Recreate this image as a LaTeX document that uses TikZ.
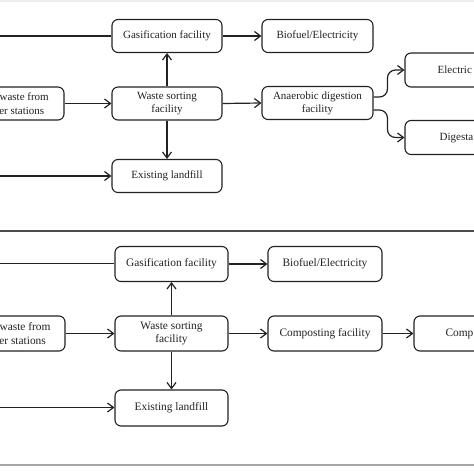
\documentclass[tikz,border=0pt]{standalone}
\usepackage{fontspec}
\setmainfont{Liberation Serif}
\usetikzlibrary{arrows.meta}
\definecolor{ink}{HTML}{222222}
\tikzset{
  box/.style={draw=ink, line width=1.1pt, rounded corners=6pt, text=ink, align=center, inner sep=1pt},
  boxA/.style={box, minimum width=110pt, minimum height=33pt, font=\fontsize{11}{13}\selectfont},
  boxB/.style={box, minimum width=113pt, minimum height=35pt, font=\fontsize{11.4}{13.5}\selectfont},
  frag/.style={inner sep=0pt, text=ink},
  conn/.style={draw=ink, line width=1.2pt},
  arr/.style={conn, -{Straight Barb[length=6pt,width=9pt,line width=1.2pt]}},
}
\begin{document}
\begin{tikzpicture}[x=1pt,y=-1pt]
\useasboundingbox (0,0) rectangle (474,474);
\clip (0,0) rectangle (474,474);
\fill[white] (0,0) rectangle (474,474);
\fill[black!7] (0,0) rectangle (474,1.5);
% separators
\draw[black!70, line width=1.2pt] (0,231) -- (474,231);
\draw[black!35, line width=2pt] (0,464.5) -- (474,464.5);

% ---------- top panel ----------
\node[boxA] (src1) at (9,103.5) {};
\node[frag, anchor=west, font=\fontsize{11}{13}\selectfont] (src1a) at (-0.6,97) {waste from};
\node[frag, anchor=west, font=\fontsize{11}{13}\selectfont] (src1b) at (-0.9,110.5) {er stations};
\node[boxA] (gas1) at (167,36) {Gasification facility};
\node[boxA] (ws1) at (167,103.5) {Waste sorting\\facility};
\node[boxA] (lf1) at (167,176) {Existing landfill};
\node[boxA, minimum width=111pt] (bio1) at (317.5,36) {Biofuel/Electricity};
\node[boxA, minimum width=111pt] (ad1) at (317.5,103) {Anaerobic digestion\\facility};
\node[boxA, minimum width=110pt, minimum height=34pt] (el1) at (460,70) {};
\node[frag, anchor=west, font=\fontsize{11}{13}\selectfont] (el1t) at (437.5,70) {Electric};
\node[boxA, minimum width=110pt, minimum height=34pt] (dg1) at (460,137.5) {};
\node[frag, anchor=west, font=\fontsize{11}{13}\selectfont] (dg1t) at (439.5,138) {Digesta};

\coordinate (in1a) at (0,36);
\coordinate (in1b) at (0,176);
\draw[conn] (in1a) -- (gas1.west);
\draw[arr] (in1b) -- (lf1.west);
\draw[arr] (src1.east) -- (ws1.west);
\draw[arr] (ws1.north) -- (gas1.south);
\draw[arr] (ws1.south) -- (lf1.north);
\draw[arr] (gas1.east) -- (bio1.west);
\draw[arr] (ws1.east) -- (ad1.west);
\draw[arr, rounded corners=8pt] ([yshift=6pt]ad1.east) -| ([xshift=-17pt]el1.west) -- (el1.west);
\draw[arr, rounded corners=8pt] ([yshift=-7pt]ad1.east) -| ([xshift=-17pt]dg1.west) -- (dg1.west);

% ---------- bottom panel ----------
\node[boxB] (src2) at (8.5,333.5) {};
\node[frag, anchor=west, font=\fontsize{11.4}{13.5}\selectfont] (src2a) at (-0.6,326.5) {waste from};
\node[frag, anchor=west, font=\fontsize{11.4}{13.5}\selectfont] (src2b) at (-0.9,340.5) {er stations};
\node[boxB] (gas2) at (171.5,264) {Gasification facility};
\node[boxB] (ws2) at (171.5,333.5) {Waste sorting\\facility};
\node[boxB, minimum height=36pt] (lf2) at (171.5,408) {Existing landfill};
\node[boxB, minimum width=114pt] (bio2) at (325,264) {Biofuel/Electricity};
\node[boxB, minimum width=114pt] (cp2) at (325,333.5) {Composting facility};
\node[boxB, minimum width=114pt] (co2) at (471,333.5) {};
\node[frag, anchor=east, font=\fontsize{11.4}{13.5}\selectfont] (co2t) at (473.6,333.5) {Comp};

\coordinate (in2a) at (0,263.5);
\coordinate (in2b) at (0,407.5);
\draw[conn] (in2a) -- (in2a -| gas2.west);
\draw[arr] (in2b) -- (in2b -| lf2.west);
\draw[arr] (src2.east) -- (ws2.west);
\draw[arr] (ws2.north) -- (gas2.south);
\draw[arr] (ws2.south) -- (lf2.north);
\draw[arr] (gas2.east) -- (bio2.west);
\draw[arr] (ws2.east) -- (cp2.west);
\draw[arr] (cp2.east) -- (co2.west);
\end{tikzpicture}
\end{document}
